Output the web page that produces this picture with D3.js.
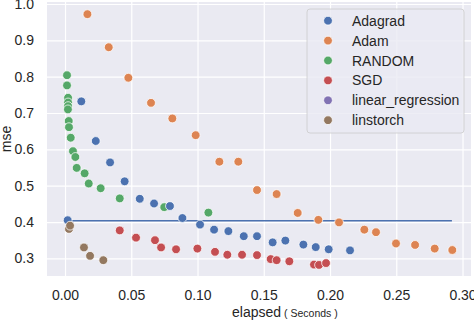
<!DOCTYPE html>
<html lang="en">
    <head>
        <meta charset="utf-8">
        <title>mse vs elapsed</title>
        <script type="text/javascript" src="https://d3js.org/d3.v7.min.js"></script>
        <style type="text/css">
          body {
            margin: 0;
            background: white;
          }
          svg text {
            font-family: "Liberation Sans", Arial, sans-serif;
            fill: #262626;
          }
          .grid line {
            stroke: white;
            stroke-width: 1.2;
          }
          .grid path {
            display: none;
          }
          .grid text {
            font-size: 14px;
          }
          .dot {
            stroke: white;
            stroke-width: 0.75;
          }
        </style>
    </head>
    <body>
        <script type="text/javascript">
          var w = 474;
          var h = 322;

          // plot area (pixels)
          var plotLeft = 47, plotRight = 471, plotTop = 2, plotBottom = 276;

          var xTicks = [0, 0.05, 0.10, 0.15, 0.20, 0.25, 0.30];
          var yTicks = [0.3, 0.4, 0.5, 0.6, 0.7, 0.8, 0.9, 1.0];

          var seriesNames = ["Adagrad", "Adam", "RANDOM", "SGD", "linear_regression", "linstorch"];
          var seriesColors = ["#4c72b0", "#dd8452", "#55a868", "#c44e52", "#8172b3", "#937860"];

          // values
          var adagradX = [0.002, 0.0123, 0.0232, 0.034, 0.045, 0.0564, 0.0672, 0.0792, 0.0886, 0.1019, 0.1125, 0.1233, 0.1349, 0.1449, 0.1567, 0.1663, 0.1799, 0.1892, 0.199, 0.2151];
          var adagradY = [0.405, 0.732, 0.623, 0.564, 0.512, 0.464, 0.451, 0.444, 0.411, 0.393, 0.379, 0.375, 0.361, 0.361, 0.344, 0.349, 0.338, 0.331, 0.325, 0.322];

          var adamX = [0.0169, 0.033, 0.0478, 0.0649, 0.081, 0.0986, 0.1165, 0.1308, 0.1449, 0.1597, 0.1756, 0.1912, 0.2068, 0.2259, 0.2347, 0.2498, 0.2642, 0.279, 0.2923];
          var adamY = [0.972, 0.881, 0.797, 0.728, 0.685, 0.639, 0.566, 0.566, 0.488, 0.477, 0.425, 0.406, 0.399, 0.379, 0.372, 0.341, 0.337, 0.327, 0.323];

          var randomX = [0.0015, 0.0015, 0.0023, 0.0023, 0.0023, 0.0022, 0.0028, 0.0030, 0.0043, 0.006, 0.0078, 0.0088, 0.0148, 0.0179, 0.0269, 0.0413, 0.0749, 0.1082];
          var randomY = [0.804, 0.776, 0.742, 0.729, 0.719, 0.710, 0.678, 0.661, 0.632, 0.595, 0.579, 0.549, 0.534, 0.506, 0.493, 0.465, 0.441, 0.426];

          var sgdX = [0.0413, 0.0536, 0.0679, 0.0725, 0.0838, 0.0999, 0.1132, 0.1225, 0.1336, 0.1449, 0.1552, 0.1597, 0.1693, 0.1879, 0.1917, 0.197];
          var sgdY = [0.377, 0.357, 0.350, 0.330, 0.325, 0.327, 0.318, 0.310, 0.310, 0.309, 0.298, 0.295, 0.292, 0.283, 0.282, 0.287];

          var linregX = [0.003];
          var linregY = [0.381];

          var linstorchX = [0.003, 0.0038, 0.0143, 0.0189, 0.0289];
          var linstorchY = [0.381, 0.390, 0.330, 0.307, 0.295];

          // horizontal reference line
          var refLineX = [0, 0.292];
          var refLineY = 0.4035;

          var svg = d3.select("body").append("svg")
                      .attr("width", w)
                      .attr("height", h);

          var xScale = d3.scaleLinear()
                         .domain([-0.0136, 0.3064])
                         .range([plotLeft, plotRight]);
          var yScale = d3.scaleLinear()
                         .domain([0.2515, 1.0055])
                         .range([plotBottom, plotTop]);

          // background
          svg.append("rect")
             .attr("x", plotLeft)
             .attr("y", plotTop)
             .attr("width", plotRight - plotLeft)
             .attr("height", plotBottom - plotTop)
             .attr("fill", "#eaeaf2");

          // grid + tick labels
          svg.append("g")
             .attr("class", "grid")
             .attr("transform", "translate(0," + plotBottom + ")")
             .call(d3.axisBottom(xScale)
                     .tickValues(xTicks)
                     .tickFormat(d3.format(".2f"))
                     .tickSize(-(plotBottom - plotTop))
                     .tickPadding(14.5));
          svg.append("g")
             .attr("class", "grid")
             .attr("transform", "translate(" + plotLeft + ",0)")
             .call(d3.axisLeft(yScale)
                     .tickValues(yTicks)
                     .tickFormat(d3.format(".1f"))
                     .tickSize(-(plotRight - plotLeft))
                     .tickPadding(13));
          svg.selectAll(".grid text").attr("fill", "#262626");

          // reference line
          svg.append("line")
             .attr("x1", xScale(refLineX[0]))
             .attr("x2", xScale(refLineX[1]))
             .attr("y1", yScale(refLineY))
             .attr("y2", yScale(refLineY))
             .attr("stroke", "#4c72b0")
             .attr("stroke-width", 1.6);

          // scatter points, drawn series by series
          var drawOrder = [
            [randomX, randomY, 2],
            [sgdX, sgdY, 3],
            [adamX, adamY, 1],
            [adagradX, adagradY, 0],
            [linregX, linregY, 4],
            [linstorchX, linstorchY, 5]
          ];
          drawOrder.forEach(function(s) {
            var pts = s[0].map(function(x, i) { return [x, s[1][i]]; });
            svg.append("g").selectAll("circle")
               .data(pts)
               .enter()
               .append("circle")
               .attr("class", "dot")
               .attr("cx", function(d) { return xScale(d[0]); })
               .attr("cy", function(d) { return yScale(d[1]); })
               .attr("r", 4.4)
               .attr("fill", seriesColors[s[2]]);
          });

          // axis labels
          var xl = svg.append("text")
                      .attr("x", 232)
                      .attr("y", 317);
          xl.append("tspan").attr("font-size", "14px").text("elapsed");
          xl.append("tspan").attr("font-size", "10.5px").attr("dx", 3).text("( Seconds )");

          svg.append("text")
             .attr("transform", "translate(11," + ((plotTop + plotBottom) / 2) + ") rotate(-90)")
             .attr("text-anchor", "middle")
             .attr("font-size", "14px")
             .text("mse");

          // legend
          var lg = svg.append("g");
          lg.append("rect")
            .attr("x", 307)
            .attr("y", 9)
            .attr("width", 157)
            .attr("height", 124)
            .attr("rx", 3)
            .attr("fill", "#eaeaf2")
            .attr("fill-opacity", 0.8)
            .attr("stroke", "#cccccc")
            .attr("stroke-width", 0.8);
          seriesNames.forEach(function(name, i) {
            var cy = 20.7 + i * 19.9;
            lg.append("circle")
              .attr("class", "dot")
              .attr("cx", 328)
              .attr("cy", cy)
              .attr("r", 4.4)
              .attr("fill", seriesColors[i]);
            lg.append("text")
              .attr("x", 352)
              .attr("y", cy + 5)
              .attr("font-size", "14px")
              .text(name);
          });
        </script>
    </body>
</html>
